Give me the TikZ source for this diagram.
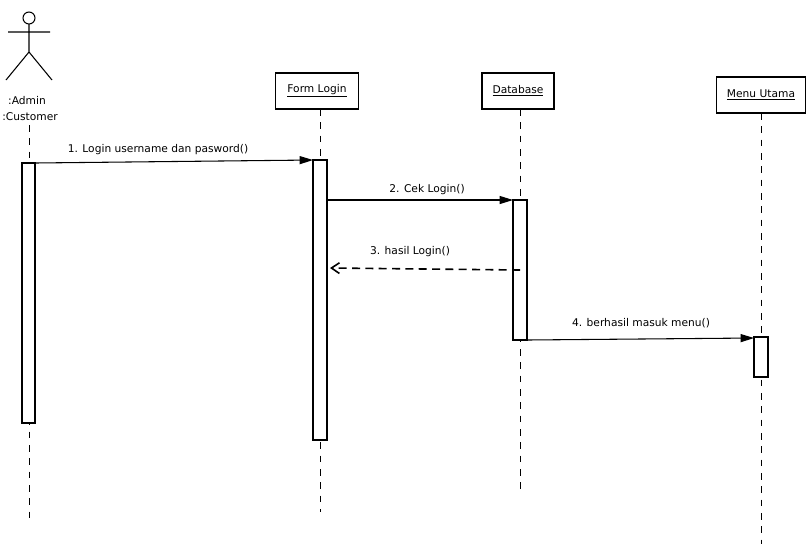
\documentclass[tikz,border=0pt]{standalone}
\usepackage{fontspec}
\setmainfont{DejaVu Sans}
\usetikzlibrary{arrows.meta}
\begin{document}
\begin{tikzpicture}[x=0.75pt,y=-0.75pt,
  every node/.style={font=\fontsize{8}{9}\selectfont, text=black},
  obj/.style={draw, thick, fill=white, minimum height=27pt, inner sep=2pt},
  act/.style={draw, thick, fill=white},
  life/.style={dash pattern=on 5pt off 5pt, thin},
  msg/.style={thick, -{Triangle[width=6pt,length=10pt]}},
  ret/.style={very thick, dash pattern=on 6pt off 4pt, -{Straight Barb[width=8pt,length=6pt]}}
]
  \useasboundingbox (0,0) rectangle (809,544);
  % actor
  \draw[thick] (29,18) circle (6);
  \draw[thick] (29,24) -- (29,52) (8,32) -- (50,32) (6,80) -- (29,52) -- (52,80);
  \node (lbl1) at (27,101) {:Admin};
  \node (lbl2) at (30,117) {:Customer};
  % lifelines
  \coordinate (endA) at (29,520);
  \coordinate (endF) at (320,512);
  \coordinate (endD) at (520,492);
  \coordinate (endM) at (761,544);
  \draw[life] (29,125) -- (endA);
  \draw[life] (320,109) -- (endF);
  \draw[life] (520,109) -- (endD);
  \draw[life] (761,113) -- (endM);
  % objects
  \node[obj, minimum width=62pt] (form) at (317,91) {\underline{Form Login}};
  \node[obj, minimum width=54pt] (db) at (518,91) {\underline{Database}};
  \node[obj, minimum width=67pt] (menu) at (761,95) {\underline{Menu Utama}};
  % activations
  \draw[act] (22,163) rectangle (35,423);
  \draw[act] (313,160) rectangle (327,440);
  \draw[act] (513,200) rectangle (527,340);
  \draw[act] (754,337) rectangle (768,377);
  % messages
  \coordinate (m1s) at (35,163); \coordinate (m1e) at (313,160);
  \coordinate (m2s) at (327,200); \coordinate (m2e) at (513,200);
  \coordinate (m3s) at (520,270); \coordinate (m3e) at (330,268);
  \coordinate (m4s) at (527,340); \coordinate (m4e) at (754,338);
  \draw[msg] (m1s) -- (m1e);
  \draw[msg] (m2s) -- (m2e);
  \draw[ret] (m3s) -- (m3e);
  \draw[msg] (m4s) -- (m4e);
  \node (t1) at (158,150) {1. Login username dan pasword()};
  \node (t2) at (427,190) {2. Cek Login()};
  \node (t3) at (410,252) {3. hasil Login()};
  \node (t4) at (641,323) {4. berhasil masuk menu()};
\end{tikzpicture}
\end{document}
